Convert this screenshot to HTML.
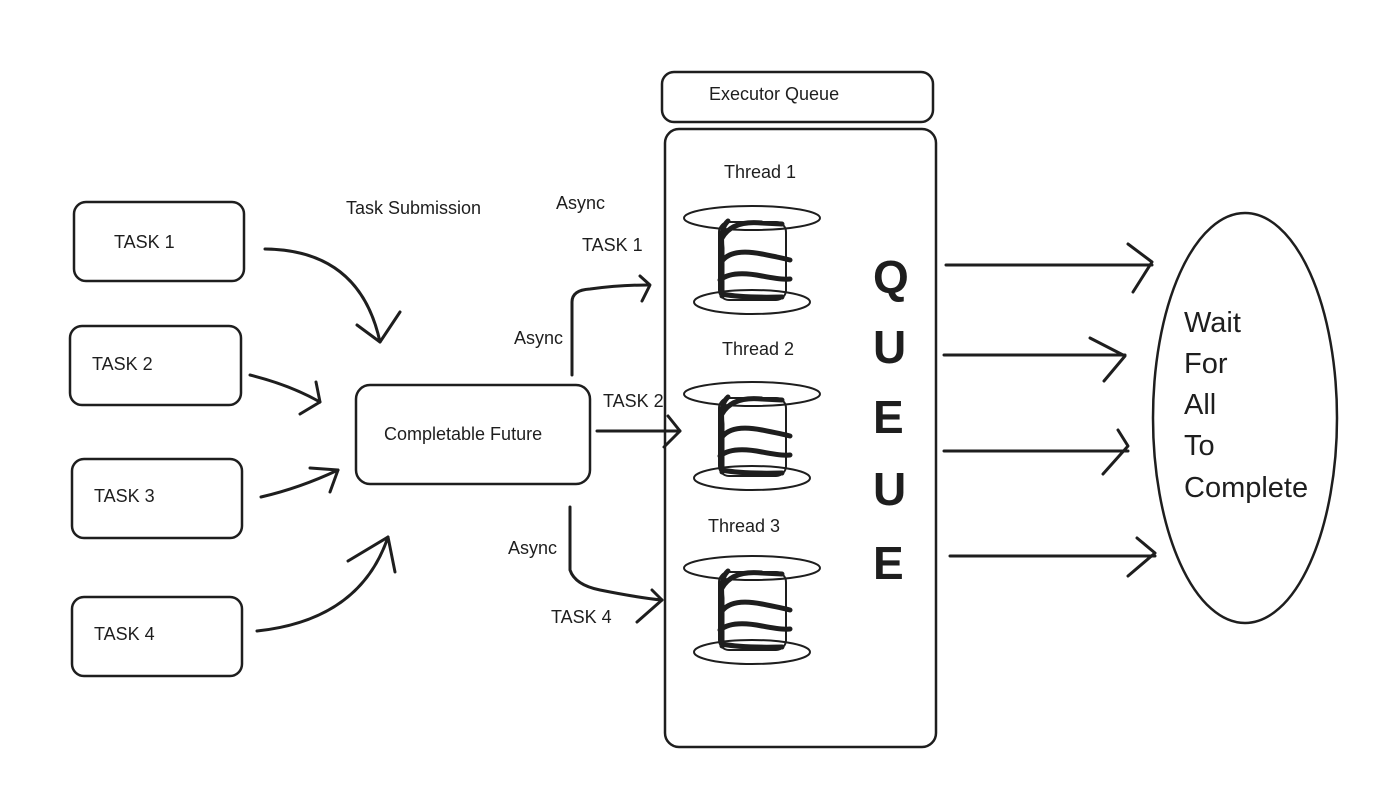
<!DOCTYPE html>
<html><head><meta charset="utf-8"><style>
html,body{margin:0;padding:0;background:#fff;}
svg{display:block}
text{font-family:"Liberation Sans",sans-serif;fill:#1e1e1e}
</style></head><body>
<svg width="1400" height="802" viewBox="0 0 1400 802" xmlns="http://www.w3.org/2000/svg">
<defs>
<g id="spool">
<ellipse cx="0" cy="0" rx="68" ry="12" fill="none" stroke="#1e1e1e" stroke-width="2"/>
<rect x="-33" y="4" width="67" height="78" rx="10" fill="none" stroke="#1e1e1e" stroke-width="2"/>
<ellipse cx="0" cy="84" rx="58" ry="12" fill="none" stroke="#1e1e1e" stroke-width="2"/>
<path d="M-24 3 Q-32 10 -30 30 L-30 78 M-30 20 Q-20 2 10 5 L30 6 M-30 43 Q-20 30 10 36 Q30 40 38 42 M-32 62 Q-20 52 10 58 Q30 62 38 61 M-30 76 Q-10 80 30 79" fill="none" stroke="#1e1e1e" stroke-width="5" stroke-linecap="round"/>
</g>
</defs>
<g fill="none" stroke="#1e1e1e" stroke-width="2.5">
<rect x="74" y="202" width="170" height="79" rx="12"/>
<rect x="70" y="326" width="171" height="79" rx="12"/>
<rect x="72" y="459" width="170" height="79" rx="12"/>
<rect x="72" y="597" width="170" height="79" rx="12"/>
<rect x="356" y="385" width="234" height="99" rx="14"/>
<rect x="662" y="72" width="271" height="50" rx="12"/>
<rect x="665" y="129" width="271" height="618" rx="14"/>
<ellipse cx="1245" cy="418" rx="92" ry="205"/>
</g>
<g fill="none" stroke="#1e1e1e" stroke-width="3" stroke-linecap="round" stroke-linejoin="round">
<path d="M265 249 Q360 250 380 342"/><path d="M357 325 L380 342 L400 312"/>
<path d="M250 375 Q290 385 320 402"/><path d="M300 414 L320 402 L316 382"/>
<path d="M261 497 Q300 488 338 470"/><path d="M310 468 L338 470 L330 492"/>
<path d="M257 631 Q360 620 388 537"/><path d="M348 561 L388 537 L395 572"/>
<path d="M572 375 L572 302 Q572 290 590 289 Q620 285 648 285"/><path d="M640 276 L650 285 L642 301"/>
<path d="M597 431 L680 431"/><path d="M668 416 L680 431 L664 447"/>
<path d="M570 507 L570 570 Q575 585 600 590 Q640 598 662 600"/><path d="M652 590 L662 600 L637 622"/>
<path d="M946 265 L1152 265"/><path d="M1128 244 L1152 262 L1133 292"/>
<path d="M944 355 L1125 355"/><path d="M1090 338 L1125 356 L1104 381"/>
<path d="M944 451 L1128 451"/><path d="M1118 430 L1128 446 L1103 474"/>
<path d="M950 556 L1155 556"/><path d="M1137 538 L1155 553 L1128 576"/>
</g>
<use href="#spool" x="752" y="218"/>
<use href="#spool" x="752" y="394"/>
<use href="#spool" x="752" y="568"/>
<g font-size="18">
<text x="114" y="248">TASK 1</text>
<text x="92" y="370">TASK 2</text>
<text x="94" y="502">TASK 3</text>
<text x="94" y="640">TASK 4</text>
<text x="346" y="214">Task Submission</text>
<text x="556" y="209">Async</text>
<text x="582" y="251">TASK 1</text>
<text x="514" y="344">Async</text>
<text x="603" y="407">TASK 2</text>
<text x="508" y="554">Async</text>
<text x="551" y="623">TASK 4</text>
<text x="384" y="440">Completable Future</text>
<text x="709" y="100">Executor Queue</text>
<text x="724" y="178">Thread 1</text>
<text x="722" y="355">Thread 2</text>
<text x="708" y="532">Thread 3</text>
</g>
<g font-size="46" font-weight="bold">
<text x="873" y="293">Q</text>
<text x="873" y="363">U</text>
<text x="873" y="433">E</text>
<text x="873" y="505">U</text>
<text x="873" y="579">E</text>
</g>
<g font-size="29">
<text x="1184" y="332">Wait</text>
<text x="1184" y="373">For</text>
<text x="1184" y="414">All</text>
<text x="1184" y="455">To</text>
<text x="1184" y="497">Complete</text>
</g>
</svg>
</body></html>
